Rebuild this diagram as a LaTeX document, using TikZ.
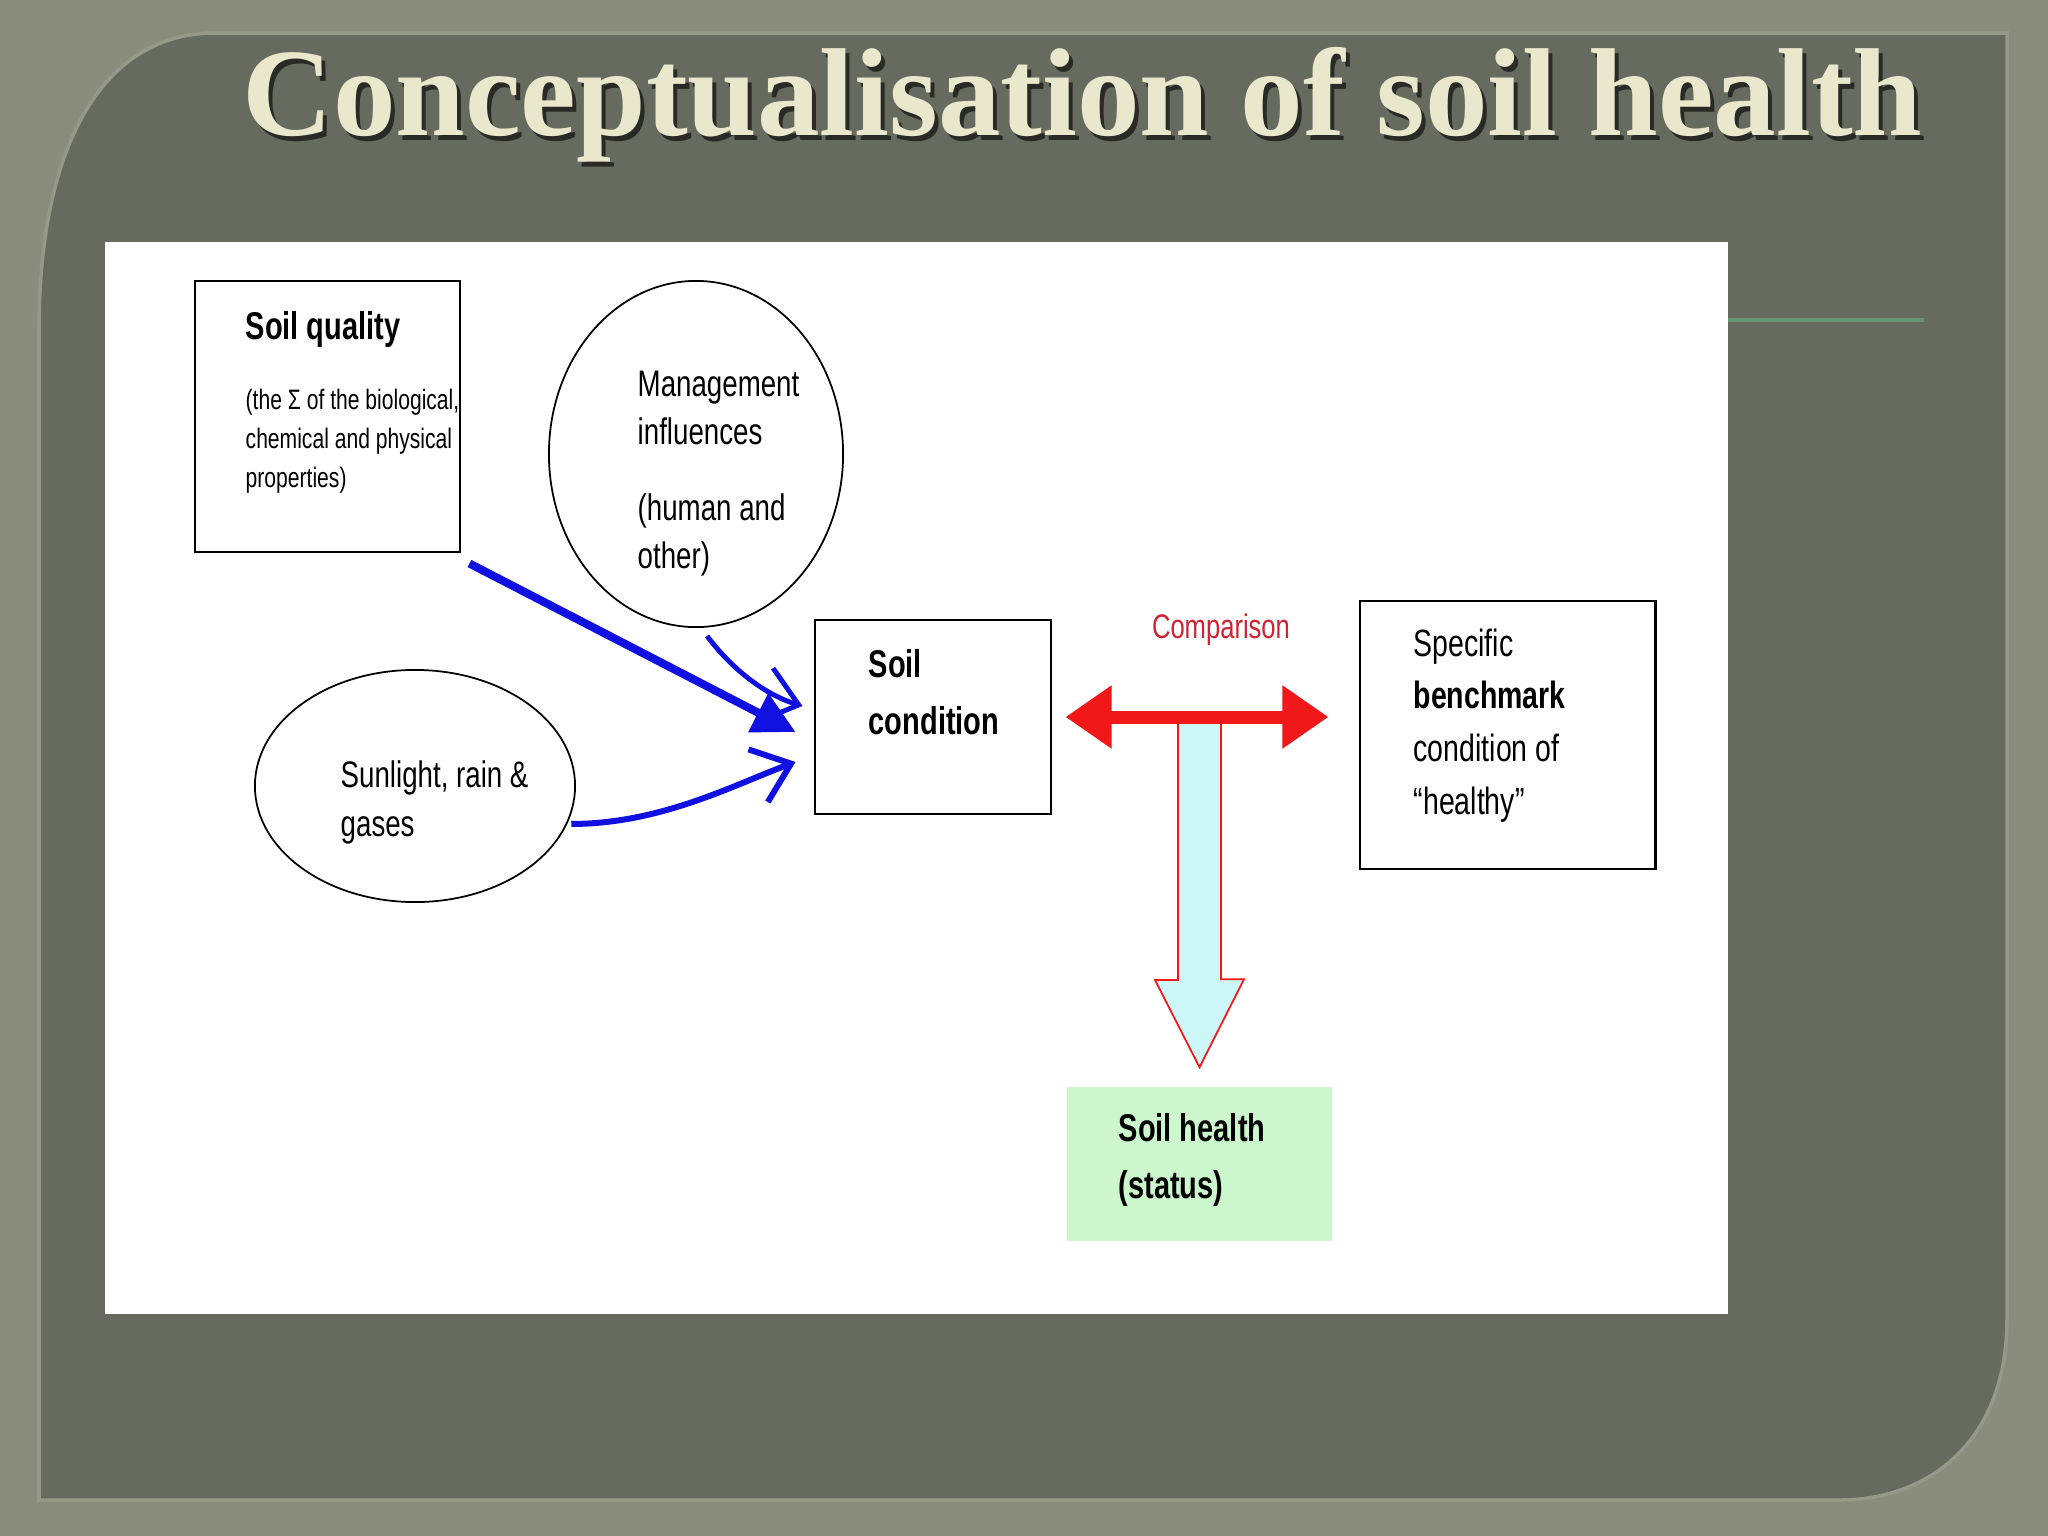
\documentclass[tikz,border=0pt]{standalone}
\usepackage{fontspec}
\setmainfont[FakeStretch=0.75]{Liberation Sans}
\newfontfamily\titlefont{Liberation Serif}
\usetikzlibrary{arrows.meta,shapes.geometric}

\definecolor{slidebg}{RGB}{139,141,124}
\definecolor{panelgrey}{RGB}{103,106,94}
\definecolor{panelrim}{RGB}{150,152,136}
\definecolor{titlecream}{RGB}{233,232,204}
\definecolor{rulegreen}{RGB}{98,150,118}
\definecolor{arrowblue}{RGB}{16,16,224}
\definecolor{arrowred}{RGB}{240,24,24}
\definecolor{compred}{RGB}{205,35,50}
\definecolor{paleblue}{RGB}{204,246,248}
\definecolor{palegreen}{RGB}{204,247,204}

\begin{document}
\begin{tikzpicture}[x=0.01cm, y=-0.01cm,
    every text node part/.style={align=left},
    every node/.style={inner sep=0pt},
    boxframe/.style={draw=black, line width=0.8pt, fill=white},
    oval/.style={ellipse, draw=black, line width=0.5pt},
    bigtext/.style={font=\bfseries\fontsize{11}{16}\selectfont},
    smalltext/.style={font=\fontsize{10.5}{14}\selectfont}]

        % slide background
        \fill[slidebg] (0,0) rectangle (2048,1536);
        \fill[panelgrey, draw=panelrim, line width=1pt] (39,330) .. controls (39,150) and (100,33) .. (215,33) -- (2007,33) -- (2007,1319) .. controls (2007,1440) and (1930,1500) .. (1840,1500) -- (39,1500) -- cycle;

        \node(titleshadow) at (246,140)[anchor=base west, text=black, opacity=0.6]{\titlefont\bfseries\fontsize{35.6}{40}\selectfont Conceptualisation of soil health};
        \node(title) at (242,135)[anchor=base west, text=titlecream]{\titlefont\bfseries\fontsize{35.6}{40}\selectfont Conceptualisation of soil health};
        \draw[rulegreen, line width=1.2pt] (1700,320) -- (1924,320);

        \fill[white] (105,242) rectangle (1728,1314);

        % boxes and ovals
        \node(quality) at (327.5,416.5)[boxframe, minimum width=2.65cm, minimum height=2.71cm]{};
        \node(qualitytitle) at (245,311)[anchor=north west, font=\bfseries\fontsize{11}{14}\selectfont]{Soil quality};
        \node(qualitynote) at (245,388)[anchor=north west, font=\fontsize{8}{11.1}\selectfont]{(the Σ of the biological,\\chemical and physical\\properties)};

        \node(management) at (696,454)[oval, minimum width=2.94cm, minimum height=3.46cm]{};
        \node(managementtext) at (637,370)[anchor=north west, font=\fontsize{10.5}{13.7}\selectfont]{Management\\influences\\[8pt](human and\\other)};

        \node(sun) at (415,786)[oval, minimum width=3.2cm, minimum height=2.32cm]{};
        \node(suntext) at (340,760)[anchor=north west, smalltext]{Sunlight, rain \&\\gases};

        \node(condition) at (933,717)[boxframe, minimum width=2.36cm, minimum height=1.94cm]{};
        \node(conditiontext) at (868,649)[anchor=north west, bigtext]{Soil\\condition};

        \node(benchmark) at (1507.5,735)[boxframe, minimum width=2.95cm, minimum height=2.68cm]{};
        \node(benchmarktext) at (1413,628)[anchor=north west, font=\fontsize{10.8}{15}\selectfont]{Specific\\\textbf{benchmark}\\condition of\\“healthy”};

        \node(health) at (1199.5,1164)[fill=palegreen, minimum width=2.65cm, minimum height=1.54cm]{};
        \node(healthtext) at (1118,1113)[anchor=north west, bigtext]{Soil health\\(status)};

        \node(comparison) at (1221,630)[text=compred, font=\fontsize{9.7}{12}\selectfont]{Comparison};
        \coordinate(fork) at (health.north |- condition.east);

        % arrows
        \draw[arrowred, fill=paleblue, line width=0.5pt] ([shift={(-21.5,0)}]fork) -- ++(0,263) -- ++(-23,0) -- ([shift={(0,-19)}]health.north) -- ++(44.5,-88) -- ++(-23,0) -- ++(0,-263) -- cycle;
        \draw[arrowred, line width=3.7pt, {Triangle[length=0.46cm, width=0.6cm]}-{Triangle[length=0.46cm, width=0.6cm]}] ([shift={(13,0)}]condition.east) -- ([shift={(-30,0)}]condition.east -| benchmark.west);

        \draw[arrowblue, line width=2.3pt, -{Triangle[length=0.42cm, width=0.42cm]}] ([shift={(8,10)}]quality.south east) -- ([shift={(-18,15)}]condition.west);
        \draw[arrowblue, line width=1.4pt, -{Straight Barb[length=0.35cm, width=0.56cm]}] ([shift={(11,8)}]management.south) .. controls +(28,37) and +(-34,-10) .. ([shift={(-11,-11)}]condition.west);
        \draw[arrowblue, line width=1.7pt, -{Straight Barb[length=0.35cm, width=0.56cm]}] ([shift={(4,0)}]sun.-14) .. controls +(90,0) and +(-60,22) .. ([shift={(-18,45)}]condition.west);

    \end{tikzpicture}
\end{document}
